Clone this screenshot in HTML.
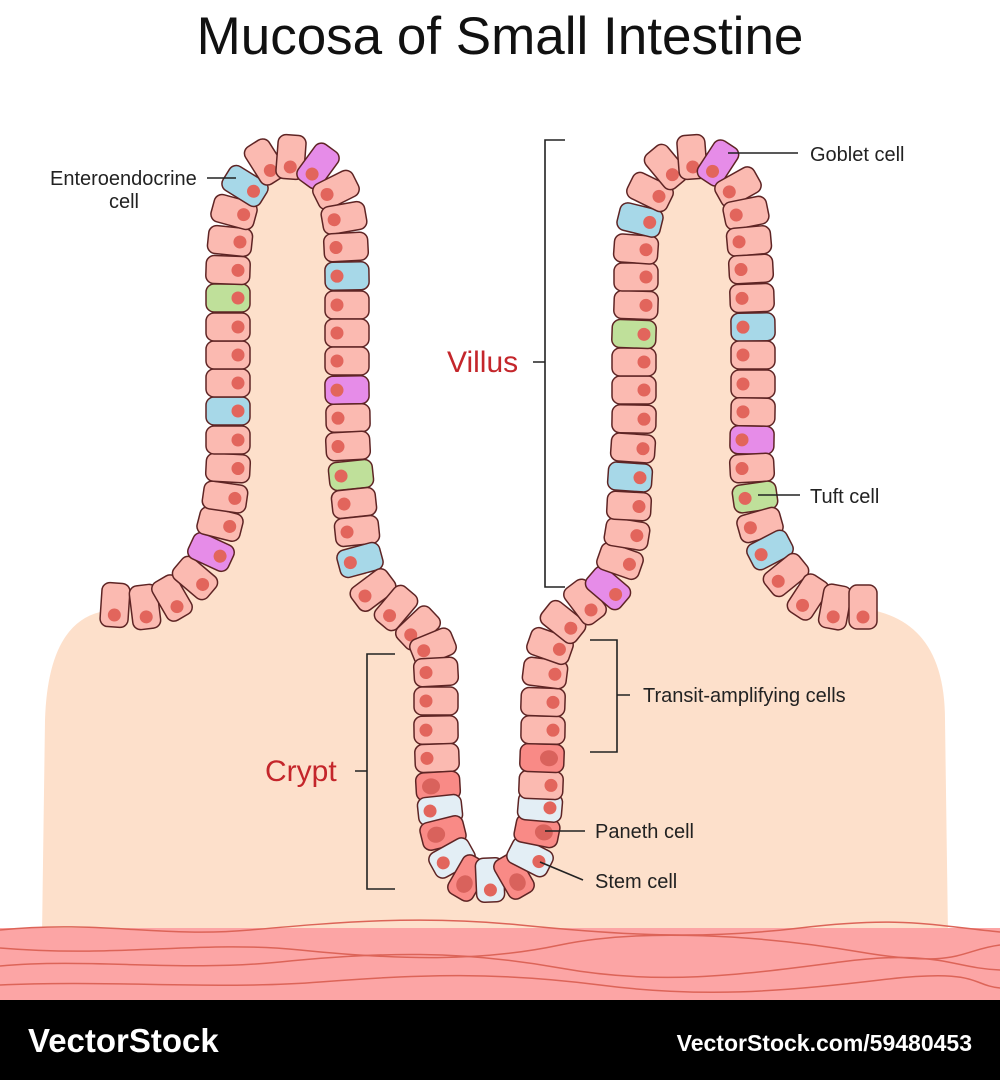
<!DOCTYPE html>
<html><head><meta charset="utf-8">
<style>
html,body{margin:0;padding:0;background:#fff;}
body{width:1000px;height:1080px;overflow:hidden;position:relative;font-family:"Liberation Sans",sans-serif;}
</style></head><body>
<svg id="s" width="1000" height="1080" viewBox="0 0 1000 1080" xmlns="http://www.w3.org/2000/svg">
<rect width="1000" height="1080" fill="#fff"/>
<g id="tissue"></g>
<rect x="0" y="928" width="1000" height="74" fill="#fca5a5"/>
<g fill="none" stroke="#dc6458" stroke-width="1.5">
<path d="M0 930 C100 920 160 938 250 930 S420 915 520 925 S700 940 800 928 S930 925 1000 932"/>
<path d="M0 948 C120 958 200 940 300 950 S480 962 560 945 S760 935 860 952 S960 950 1000 945"/>
<path d="M0 966 C90 958 180 972 280 962 S460 950 560 968 S740 975 840 962 S950 968 1000 970"/>
<path d="M0 985 C110 980 220 990 320 982 S500 972 600 985 S780 992 880 980 S970 985 1000 988"/>
</g>
<g id="cells"></g>
<text x="500" y="54" font-size="53" text-anchor="middle" fill="#111">Mucosa of Small Intestine</text>
<g font-size="20" fill="#222">
<text x="50" y="185">Enteroendocrine</text>
<text x="124" y="208" text-anchor="middle">cell</text>
<text x="810" y="161">Goblet cell</text>
<text x="810" y="503">Tuft cell</text>
<text x="643" y="702">Transit-amplifying cells</text>
<text x="595" y="838">Paneth cell</text>
<text x="595" y="888">Stem cell</text>
</g>
<text x="447" y="372" font-size="30" fill="#c4262b">Villus</text>
<text x="265" y="781" font-size="30" fill="#c4262b">Crypt</text>
<g stroke="#222" stroke-width="1.6" fill="none">
<path d="M207 178 H236"/>
<path d="M728 153 H798"/>
<path d="M758 495 H800"/>
<path d="M565 140 H545 V587 H565 M533 362 H545"/>
<path d="M590 640 H617 V752 H590 M617 695 H630"/>
<path d="M395 654 H367 V889 H395 M355 771 H367"/>
<path d="M545 831 H585"/>
<path d="M540 862 L583 880"/>
</g>
<rect x="0" y="1000" width="1000" height="80" fill="#000"/>
<text x="28" y="1052" font-size="33" font-weight="bold" fill="#fff">VectorStock</text>
<text x="972" y="1051" font-size="23" font-weight="bold" fill="#fff" text-anchor="end">VectorStock.com/59480453</text>
</svg>
<script>
var P=[
[115,605,'p'],[145,607,'p'],[172,598,'p'],[195,578,'p'],[211,552,'m'],[220,524,'p'],[225,497,'p'],[228,468,'p'],[228,440,'p'],[228,411,'b'],[228,383,'p'],[228,355,'p'],[228,327,'p'],[228,298,'g'],[228,270,'p'],[230,241,'p'],[234,212,'p'],[245,186,'b'],[265,162,'p'],[291,157,'p'],[318,166,'m'],[336,190,'p'],[344,218,'p'],[346,247,'p'],[347,276,'b'],[347,305,'p'],[347,333,'p'],[347,361,'p'],[347,390,'m'],[348,418,'p'],[348,446,'p'],[351,475,'g'],[354,503,'p'],[357,531,'p'],[360,560,'b'],[373,590,'p'],[396,608,'p'],[418,628,'p'],[433,647,'p'],
[436,672,'p'],[436,701,'p'],[436,730,'p'],[437,758,'p'],[438,786,'r'],[440,810,'l'],[443,833,'r'],[452,858,'l'],[468,878,'r'],[490,880,'l'],[514,876,'r'],[530,857,'l'],[537,831,'r'],[540,807,'l'],[541,785,'p'],[542,758,'r'],[543,730,'p'],[543,702,'p'],[545,673,'p'],[550,646,'p'],[563,622,'p'],[585,602,'p'],[608,588,'m'],[620,561,'p'],[627,534,'p'],[629,506,'p'],[630,477,'b'],[633,448,'p'],[634,419,'p'],[634,390,'p'],[634,362,'p'],[634,334,'g'],[636,305,'p'],[636,277,'p'],[636,249,'p'],[640,220,'b'],[650,192,'p'],[666,167,'p'],[692,157,'p'],[718,163,'m'],[738,187,'p'],[746,213,'p'],[749,241,'p'],[751,269,'p'],[752,298,'p'],[753,327,'b'],[753,355,'p'],[753,384,'p'],[753,412,'p'],[752,440,'m'],[752,468,'p'],[755,497,'g'],[760,525,'p'],[770,550,'b'],[786,575,'p'],[808,597,'p'],[835,607,'p'],[863,607,'p']];
var C={p:['#fbbab1','#e2655c'],b:['#a7d8e8','#e2655c'],m:['#e68ce8','#e2655c'],g:['#bfe09a','#e2655c'],r:['#f98a86','#d9625c'],l:['#e3eef5','#e2655c']};
var NS='http://www.w3.org/2000/svg';
var d='M100 612 ';
P.forEach(function(p){d+='L'+p[0]+' '+p[1]+' ';});
d+='L880 612 Q945 630 945 720 L948 935 L42 935 L45 720 Q48 625 100 612 Z';
var t=document.createElementNS(NS,'path');t.setAttribute('d',d);t.setAttribute('fill','#fde0cb');
document.getElementById('tissue').appendChild(t);
var g=document.getElementById('cells');
for(var i=0;i<P.length;i++){
 var a=P[Math.max(0,i-1)],b=P[Math.min(P.length-1,i+1)];
 var dx=b[0]-a[0],dy=b[1]-a[1];
 var ang=Math.atan2(dy,dx)*180/Math.PI;
 var p=P[i],c=C[p[2]];
 var big=(p[2]=='r');
 var gg=document.createElementNS(NS,'g');
 gg.setAttribute('transform','translate('+p[0]+','+p[1]+') rotate('+ang+')');
 var r=document.createElementNS(NS,'rect');
 r.setAttribute('x',-14);r.setAttribute('y',-22);r.setAttribute('width',28);r.setAttribute('height',44);
 r.setAttribute('rx',8);r.setAttribute('fill',c[0]);r.setAttribute('stroke','#5e2424');r.setAttribute('stroke-width','1.5');
 gg.appendChild(r);
 var e=document.createElementNS(NS,'ellipse');
 e.setAttribute('cx',0);e.setAttribute('cy',big?7:10);e.setAttribute('rx',big?8:6.5);e.setAttribute('ry',big?9:6.5);
 e.setAttribute('fill',c[1]);
 gg.appendChild(e);
 g.appendChild(gg);
}
</script>
</body></html>
